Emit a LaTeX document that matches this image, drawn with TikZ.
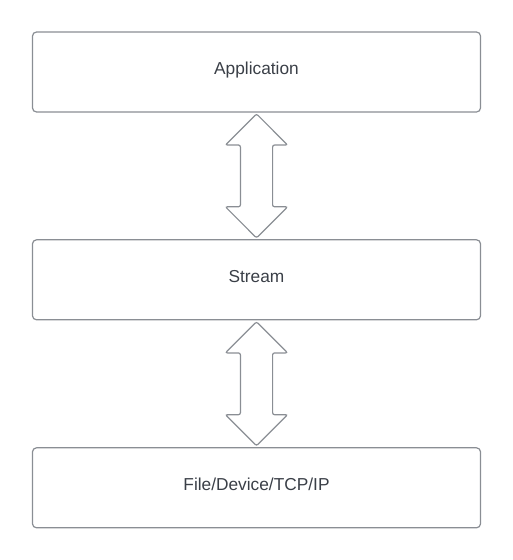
\documentclass[tikz,border=0pt]{standalone}
\usepackage{fontspec}
\setmainfont{Liberation Sans}
\usetikzlibrary{shapes.arrows,calc}
\definecolor{edgegray}{RGB}{138,142,148}
\definecolor{textgray}{RGB}{58,63,71}
\tikzset{
  layer/.style = {draw = edgegray, line width = 1.2pt, rounded corners = 4pt,
    minimum width = 448pt, minimum height = 80pt, text = textgray,
    text height = 5pt, text depth = 0pt, font = \fontsize{17.3}{21}\selectfont},
  twoway/.style = {draw = edgegray, line width = 1.2pt, double arrow, rotate = 90,
    minimum height = 124pt, minimum width = 61pt, inner xsep = 0pt, inner ysep = 15.5pt,
    double arrow head extend = 15pt, rounded corners = 2pt}
}
\begin{document}
\begin{tikzpicture}[x = 1pt, y = -1pt]
\useasboundingbox (0,0) rectangle (512,560);

\node[layer] (app) at (256.5,72) {Application};
\node[layer] (stream) at (256.5,279.8) {Stream};
\node[layer] (io) at (256.5,487.8) {File/Device/TCP/IP};

\node[twoway] (appstream) at ($(app.south)!0.5!(stream.north)$) {};
\node[twoway] (streamio) at ($(stream.south)!0.5!(io.north)$) {};
\end{tikzpicture}
\end{document}
